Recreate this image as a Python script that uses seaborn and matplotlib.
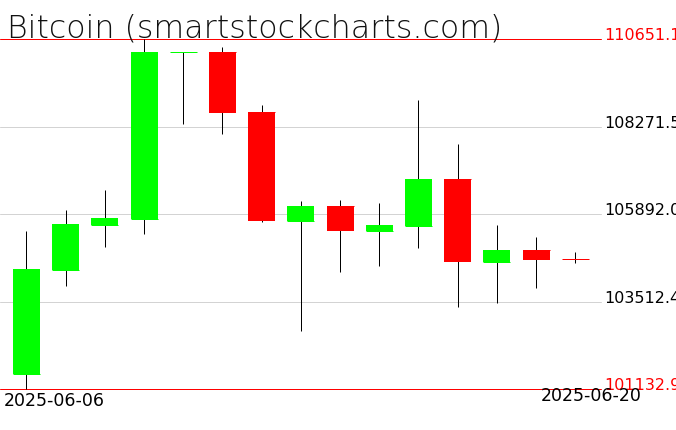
import matplotlib
matplotlib.use("Agg")
import matplotlib.pyplot as plt
import matplotlib.transforms as mtransforms
from matplotlib import font_manager
import seaborn as sns
import numpy as np
import pandas as pd

# ---- data ----
dates = ["2025-06-06", "2025-06-07", "2025-06-08", "2025-06-09", "2025-06-10",
         "2025-06-11", "2025-06-12", "2025-06-13", "2025-06-14", "2025-06-15",
         "2025-06-16", "2025-06-17", "2025-06-18", "2025-06-19", "2025-06-20"]
opens = [101549, 104377, 105601, 105756, 110285, 110298, 108666, 105710,
         106110, 105438, 105574, 106844, 104578, 104913, 104665]
closes = [104396, 105620, 105783, 110306, 110290, 108647, 105710, 106110,
          105438, 105601, 106844, 104578, 104913, 104649, 104660]
highs = [105430, 106001, 106545, 110651.1, 110295, 110425, 108856, 106246,
         106273, 106191, 109000, 107796, 105593, 105266, 104867]
lows = [101132.9, 103942, 105003, 105356, 108348, 108076, 105683, 102718,
        104323, 104486, 104975, 103355, 103480, 103888, 104567]
levels = [110651.1, 108271.5, 105892.0, 103512.4, 101132.9]
level_labels = ["110651.1", "108271.5", "105892.0", "103512.4", "101132.9"]
title = "Bitcoin (smartstockcharts.com)"

df = pd.DataFrame({"date": dates, "open": opens, "high": highs,
                   "low": lows, "close": closes})
df["x"] = np.arange(len(df))
df["up"] = df["close"] >= df["open"]

sns.set_theme(style="white")
plt.rcParams["font.family"] = ["DejaVu Sans"]

GREEN = "#00ff00"
RED = "#ff0000"
GRID = "#d3d3d3"
LW = 0.72

fig = plt.figure(figsize=(6.76, 4.31), dpi=100)
fig.patch.set_facecolor("white")
ax = fig.add_axes([0, 41 / 431, 601 / 676, 350 / 431])
ax.set_facecolor("white")
ax.set_xlim(-0.676, 14.657)
ax.set_ylim(levels[-1], levels[0])
for s in ax.spines.values():
    s.set_visible(False)
ax.set_xticks([])
ax.set_yticks([])

# level lines
for i, lv in enumerate(levels):
    col = RED if i in (0, len(levels) - 1) else GRID
    ax.axhline(lv, color=col, lw=LW, zorder=1, clip_on=False, snap=True)

# wicks
ax.vlines(df["x"], df["low"], df["high"], color="black", lw=LW, zorder=2,
          clip_on=False, snap=True)

# bodies
colors = [GREEN if u else RED for u in df["up"]]
bottoms = np.minimum(df["open"], df["close"])
heights = np.abs(df["close"] - df["open"])
ax.bar(df["x"], heights, bottom=bottoms, width=0.69, color=colors,
       linewidth=0, zorder=3, clip_on=False, antialiased=False)
ax.hlines(df["open"], df["x"] - 0.345, df["x"] + 0.345, colors=colors,
          lw=LW, zorder=3, clip_on=False, snap=True)

# right-side level labels
trans = mtransforms.blended_transform_factory(ax.transAxes, ax.transData)
for i, (lv, lab) in enumerate(zip(levels, level_labels)):
    col = RED if i in (0, len(levels) - 1) else "black"
    ax.text(604 / 601, lv, lab, transform=trans, color=col, fontsize=11.5,
            ha="left", va="baseline", clip_on=False)

# date labels
fig.text(4 / 676, (431 - 406) / 431, dates[0], fontsize=12.5, color="black",
         ha="left", va="baseline")
fig.text(541 / 676, (431 - 401) / 431, dates[-1], fontsize=12.5, color="black",
         ha="left", va="baseline")

# title (thin font if available)
fp = None
for f in font_manager.fontManager.ttflist:
    if f.name == "DejaVu Sans" and isinstance(f.weight, int) and f.weight <= 300 and f.style == "normal":
        fp = font_manager.FontProperties(fname=f.fname, size=22.8)
        break
if fp is None:
    fp = font_manager.FontProperties(family="DejaVu Sans", size=22.8)
fig.text(7 / 676, (431 - 38) / 431, title, fontproperties=fp, color="#111111",
         ha="left", va="baseline")

fig.savefig("out.png", dpi=100, facecolor="white")
